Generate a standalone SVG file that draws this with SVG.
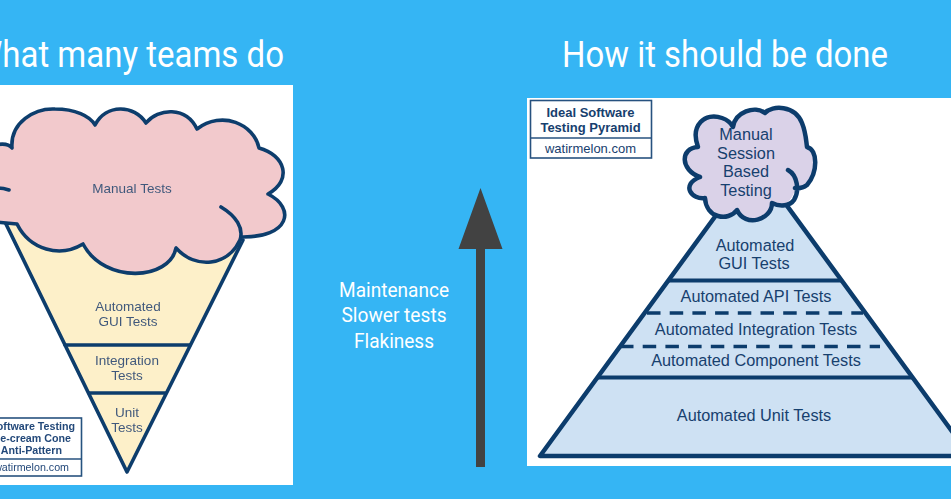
<svg xmlns="http://www.w3.org/2000/svg" width="951" height="499" viewBox="0 0 951 499">
<style>
.title{font:36px Roboto,"Liberation Sans",sans-serif;fill:#fff;text-anchor:middle}
.note{font:20px Roboto,"Liberation Sans",sans-serif;fill:#fff;text-anchor:middle}
.l{font:13.5px "Liberation Sans",Arial,sans-serif;fill:#41597c;text-anchor:middle}
.lb{font:bold 10.7px "Liberation Sans",Arial,sans-serif;fill:#24497a;text-anchor:end}
.r{font:16.3px "Liberation Sans",Arial,sans-serif;fill:#17406e;text-anchor:middle}
.rb{font:bold 13px "Liberation Sans",Arial,sans-serif;fill:#17406e;text-anchor:middle}
.ln{stroke:#0c3c6c;stroke-width:3.6;stroke-linecap:round;stroke-linejoin:round}
.big{stroke-width:4.5}
.open{fill:none}
.bar{stroke:#0c3c6c;stroke-width:4.2;fill:none}
.dash{stroke:#0c3c6c;stroke-width:3.4;fill:none;stroke-dasharray:13.5 9.2}
.box{fill:#fff;stroke:#27527f;stroke-width:1.6}
</style>
<defs><filter id="soft" x="-5%" y="-5%" width="110%" height="110%"><feGaussianBlur stdDeviation="0.45"/></filter></defs>
<rect width="951" height="499" fill="#35b5f4"/>
<text class="title" x="128.500" y="67" textLength="311" lengthAdjust="spacingAndGlyphs">What many teams do</text>
<text class="title" x="725" y="67" textLength="326" lengthAdjust="spacingAndGlyphs">How it should be done</text>
<g id="left-panel">
<rect x="0" y="85" width="293" height="400" fill="#fff"/>
<g filter="url(#soft)">
<g id="cone">
<path d="M5 222L127 472L243 240Z" fill="#fdf0c9" class="ln"/>
<path class="ln open" d="M65 345H190M89 393H165"/>
</g>
<g id="manual-cloud">
<path d="M-5 145C4 143 9 144 12 148C10 122 35 108 55 109C75 109 90 116 95 125C106 104 134 104 146 123C158 108 186 106 197 129C222 110 254 124 259 148C285 155 293 180 268 194C296 208 290 238 241 237C228 266 196 270 176 248C170 280 105 285 83 244C60 258 30 250 17 224L-5 222Z" fill="#f2c9cc"/>
<path class="ln open" d="M-5 145C4 143 9 144 12 148C10 122 35 108 55 109C75 109 90 116 95 125C106 104 134 104 146 123C158 108 186 106 197 129C222 110 254 124 259 148C285 155 293 180 268 194C296 208 290 238 241 237M221 207C236 216 244 228 240 240C228 266 196 270 176 248C170 280 105 285 83 244C60 258 30 250 17 224L-5 222M-3 188C3 188 6 189 9 190"/>
<text class="l" x="132" y="193">Manual Tests</text>
</g>
<text class="l" x="128" y="311">Automated</text>
<text class="l" x="128" y="326">GUI Tests</text>
<text class="l" x="127" y="365">Integration</text>
<text class="l" x="127" y="380">Tests</text>
<text class="l" x="127" y="417">Unit</text>
<text class="l" x="127" y="432">Tests</text>
<g id="cone-legend">
<rect class="box" x="-4" y="418" width="85.500" height="58"/>
<path class="box" d="M-4 459H81"/>
<text class="lb" x="75" y="430">Software Testing</text>
<text class="lb" x="71" y="442">Ice-cream Cone</text>
<text class="lb" x="62" y="454">Anti-Pattern</text>
<text class="lb" x="69" y="471" style="font-weight:400">watirmelon.com</text>
</g>
</g>
</g>
<g id="middle">
<text class="note" x="394" y="297" textLength="110" lengthAdjust="spacingAndGlyphs">Maintenance</text>
<text class="note" x="394" y="322" textLength="105" lengthAdjust="spacingAndGlyphs">Slower tests</text>
<text class="note" x="394" y="348" textLength="80" lengthAdjust="spacingAndGlyphs">Flakiness</text>
<g id="arrow"><path d="M480.500 188L502.500 249H485V467H476V249H458.500Z" fill="#424242"/></g>
</g>
<g id="right-panel">
<rect x="527" y="98" width="424" height="368" fill="#fff"/>
<g id="pyramid">
<path class="ln big" d="M755 162L540 456H970Z" fill="#cee1f3"/>
<path class="bar" d="M668 280.500H841M598 377.500H912"/>
<path class="dash" d="M647 313H863M620 346.500H880"/>
<text class="r" x="755" y="251">Automated</text>
<text class="r" x="754" y="269">GUI Tests</text>
<text class="r" x="756" y="302">Automated API Tests</text>
<text class="r" x="756" y="335">Automated Integration Tests</text>
<text class="r" x="756" y="366">Automated Component Tests</text>
<text class="r" x="754" y="421">Automated Unit Tests</text>
</g>
<g id="session-cloud">
<path d="M698 147C690 125 705 112 722 118C728 120 731 123 733 127C735 112 755 105 765 113C772 105 795 105 802 123C806 133 806 140 807 147C818 150 818 172 807 185C803 188 799 189 795 190C790 206 780 207 772 203C772 220 745 228 737 210C728 222 706 218 705 198C692 200 680 185 700 177C680 170 680 148 698 147Z" fill="#dad2e8"/>
<path class="ln open big" d="M700 177C680 170 680 148 698 147C690 125 705 112 722 118C728 120 731 123 733 127C735 112 755 105 765 113C772 105 795 105 802 123C806 133 806 140 807 147C818 150 818 172 807 185C803 188 799 189 795 188M788 170C797 175 800 190 794 200C790 206 780 207 772 203C772 220 745 228 737 210C728 222 706 218 705 198C692 200 680 185 700 177"/>
<text class="r" x="746" y="140">Manual</text>
<text class="r" x="746" y="159">Session</text>
<text class="r" x="746" y="177">Based</text>
<text class="r" x="746" y="196">Testing</text>
</g>
<g id="pyramid-legend">
<rect class="box" x="530.500" y="100.500" width="121" height="57.500"/>
<path class="box" d="M530 138H652"/>
<text class="rb" x="590.500" y="117">Ideal Software</text>
<text class="rb" x="590.500" y="132">Testing Pyramid</text>
<text class="rb" x="590.500" y="153" style="font-weight:400">watirmelon.com</text>
</g>
</g>
</svg>
